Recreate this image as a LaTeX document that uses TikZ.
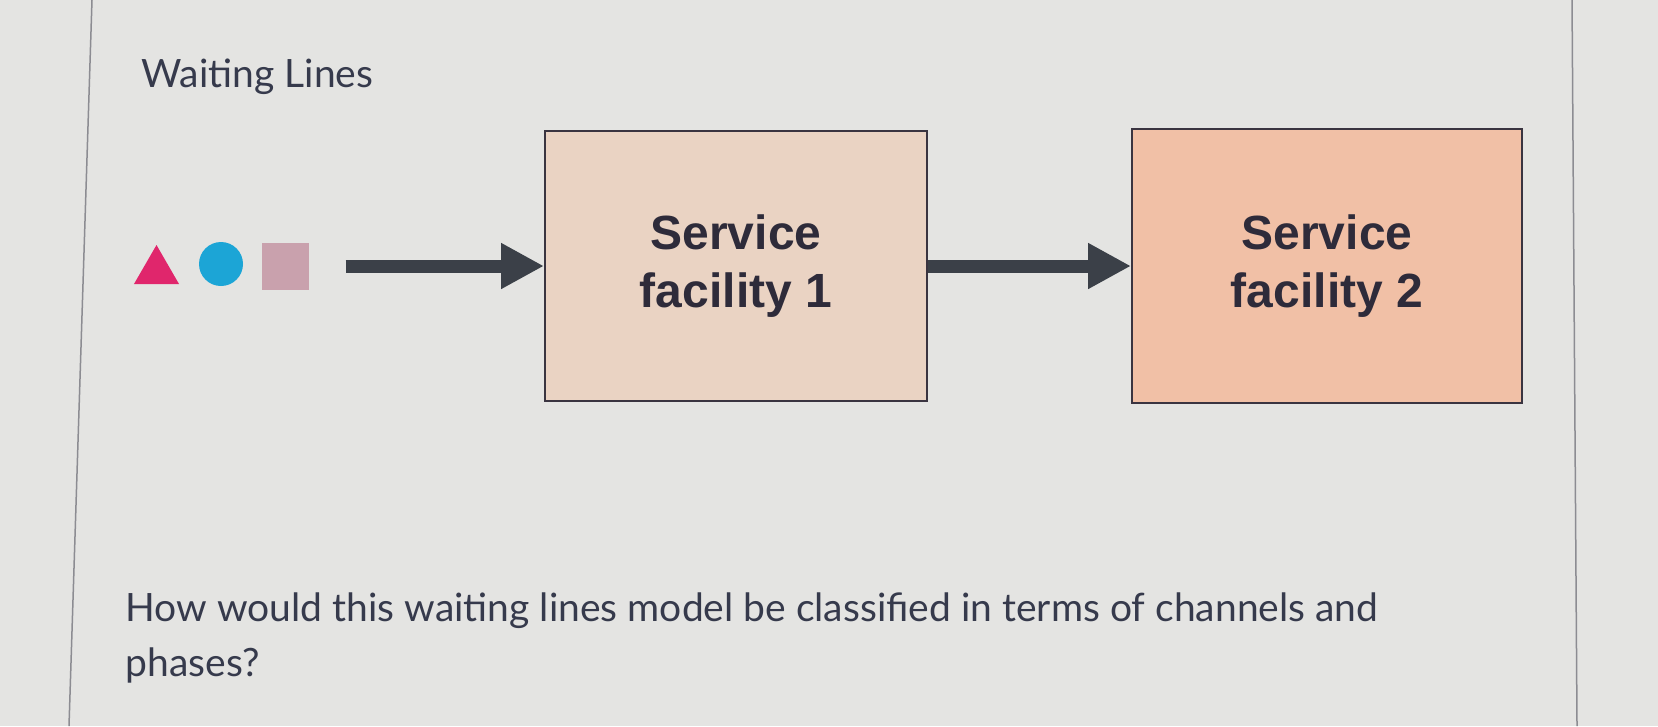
\documentclass[tikz,border=0pt]{standalone}
\usepackage{fontspec}
\setmainfont{Liberation Sans}
\newfontfamily\latofont{Lato}
\usetikzlibrary{arrows.meta, shapes.geometric}

\definecolor{pagebg}{HTML}{E4E4E2}
\definecolor{rule}{HTML}{8C8C92}
\definecolor{ink}{HTML}{363A4C}
\definecolor{boxline}{HTML}{3A3440}
\definecolor{boxink}{HTML}{2E2B3A}
\definecolor{faconefill}{HTML}{EAD3C3}
\definecolor{factwofill}{HTML}{F1C0A6}
\definecolor{arrowgray}{HTML}{3B4048}
\definecolor{custred}{HTML}{E0266C}
\definecolor{custblue}{HTML}{1CA5D6}
\definecolor{custpink}{HTML}{C9A1AD}

\tikzset{
    facility/.style={draw=boxline, line width=0.02cm, minimum width=3.82cm, minimum height=2.70cm,
        text=boxink, align=center, font=\bfseries\fontsize{13.66pt}{16.5pt}\selectfont},
    flow/.style={arrowgray, line width=0.13cm, -{Triangle[length=0.43cm, width=0.43cm]}},
    canvastext/.style={inner sep=0pt, text=ink, font=\latofont\fontsize{11.1pt}{15.4pt}\selectfont}
}

\begin{document}
\begin{tikzpicture}
    \useasboundingbox (0, 0) rectangle (16.58, 7.26);
    \fill[pagebg] (0, 0) rectangle (16.58, 7.26);

    % page edges
    \draw[rule, line width=0.015cm] (0.92, 7.26) -- (0.69, 0);
    \draw[rule, line width=0.015cm] (15.72, 7.26) -- (15.77, 0);

    \node[canvastext, anchor=base west] (title) at (1.41, 6.39) {Waiting Lines};

    % customers (red, blue, pink)
    \node[regular polygon, regular polygon sides=3, fill=custred, minimum size=0.52cm, inner sep=0pt] (tri) at (1.565, 4.55) {};
    \node[circle, fill=custblue, minimum size=0.44cm, inner sep=0pt] (dot) at (2.21, 4.62) {};
    \node[fill=custpink, minimum size=0.47cm, inner sep=0pt] (sq) at (2.855, 4.60) {};

    % the two phases
    \node[facility, fill=faconefill] (fac1) at (7.36, 4.60) {Service\\facility 1};
    \node[facility, fill=factwofill, minimum width=3.90cm, minimum height=2.74cm] (fac2) at (13.27, 4.60) {Service\\facility 2};

    \draw[flow, shorten <=0.36cm] (sq) -- (fac1);
    \draw[flow] (fac1) -- (fac2);

    \node[canvastext, anchor=base west, align=left] (question) at (1.25, 0.50)
        {How would this waiting lines model be classified in terms of channels and\\phases?};
\end{tikzpicture}
\end{document}
